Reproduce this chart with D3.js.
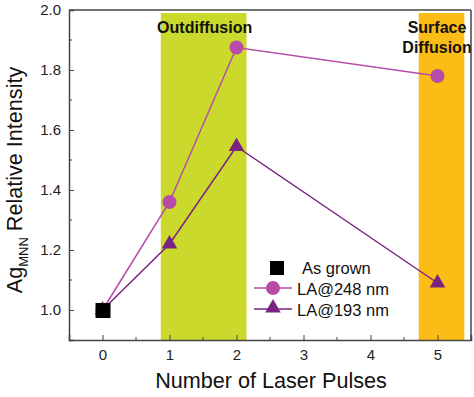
<!DOCTYPE html>
<html>
<head>
<meta charset="utf-8">
<script src="https://cdn.jsdelivr.net/npm/d3@7"></script>
<style>
  body { margin: 0; background: #fff; }
  svg { font-family: "Liberation Sans", Arial, sans-serif; }
</style>
</head>
<body>
<div id="chart"></div>
<script>
// data
const pulses = [0, 1, 2, 5]
const asGrown = [{ x: 0, y: 1.0 }]
const la248 = [1.0, 1.36, 1.875, 1.78]
const la193 = [1.0, 1.22, 1.545, 1.09]
const xTicks = [0, 1, 2, 3, 4, 5]
const yTicks = [1.0, 1.2, 1.4, 1.6, 1.8, 2.0]
const bands = [
  { label: ['Outdiffusion'], x0: 0.87, x1: 2.15, color: '#cad92b' },
  { label: ['Surface', 'Diffusion'], x0: 4.72, x1: 5.4, color: '#fcbc16' },
]

const width = 474
const height = 397
const margin = { top: 10, right: 3, bottom: 58, left: 69 }

const svg = d3.select('#chart').append('svg').attr('width', width).attr('height', height)

const x = d3.scaleLinear().domain([-0.5, 5.5]).range([margin.left, width - margin.right])
const y = d3.scaleLinear().domain([0.9, 2.0]).range([height - margin.bottom + 1, margin.top])

// shaded regions
svg
  .selectAll('.band')
  .data(bands)
  .enter()
  .append('rect')
  .attr('class', 'band')
  .attr('x', d => x(d.x0))
  .attr('width', d => x(d.x1) - x(d.x0))
  .attr('y', y(1.99))
  .attr('height', y(0.9) - y(1.99))
  .attr('fill', d => d.color)

// band titles
bands.forEach(b => {
  const cx = b.label.length > 1 ? 437 : x((b.x0 + b.x1) / 2) + 1
  b.label.forEach((t, i) => {
    svg
      .append('text')
      .attr('x', cx)
      .attr('y', 32.5 + i * 20)
      .attr('text-anchor', 'middle')
      .attr('font-size', 16)
      .attr('font-weight', 'bold')
      .attr('fill', '#111')
      .text(t)
  })
})

// axes
const axisColor = '#444'
const xAxis = d3.axisBottom(x).tickValues(xTicks).tickSize(-5).tickPadding(9).tickFormat(d3.format('d'))
const yAxis = d3.axisLeft(y).tickValues(yTicks).tickSize(-5).tickPadding(8).tickFormat(d3.format('.1f'))

const gx = svg.append('g').attr('transform', `translate(0,${y(0.9)})`).call(xAxis)
const gy = svg.append('g').attr('transform', `translate(${margin.left},0)`).call(yAxis)

// minor ticks
gx.selectAll('.minor')
  .data([0.5, 1.5, 2.5, 3.5, 4.5])
  .enter()
  .append('line')
  .attr('x1', d => x(d))
  .attr('x2', d => x(d))
  .attr('y1', 0)
  .attr('y2', -3)
  .attr('stroke', axisColor)
gy.selectAll('.minor')
  .data([1.1, 1.3, 1.5, 1.7, 1.9])
  .enter()
  .append('line')
  .attr('x1', 0)
  .attr('x2', 3)
  .attr('y1', d => y(d))
  .attr('y2', d => y(d))
  .attr('stroke', axisColor)

;[gx, gy].forEach(g => {
  g.select('.domain').attr('stroke', axisColor).attr('stroke-width', 1.5)
  g.selectAll('.tick line').attr('stroke', axisColor)
  g.selectAll('.tick text').attr('font-size', 15).attr('fill', '#222').attr('font-family', 'Liberation Sans, Arial, sans-serif')
})

// top and right frame
svg.append('line').attr('x1', x(-0.5)).attr('x2', x(5.5)).attr('y1', y(2.0)).attr('y2', y(2.0)).attr('stroke', axisColor).attr('stroke-width', 1.5)
svg.append('line').attr('x1', x(5.5)).attr('x2', x(5.5)).attr('y1', y(2.0)).attr('y2', y(0.9)).attr('stroke', axisColor).attr('stroke-width', 1.5)

// series
const c248 = '#b64ca8'
const c193 = '#7a2381'
const line = d3.line().x(d => x(d[0])).y(d => y(d[1]))

svg.append('path').datum(pulses.map((p, i) => [p, la248[i]])).attr('d', line).attr('fill', 'none').attr('stroke', c248).attr('stroke-width', 1.5)
svg.append('path').datum(pulses.map((p, i) => [p, la193[i]])).attr('d', line).attr('fill', 'none').attr('stroke', c193).attr('stroke-width', 1.5)

const tri = d3.symbol().type(d3.symbolTriangle).size(105)

svg
  .selectAll('.c248')
  .data(pulses.map((p, i) => [p, la248[i]]))
  .enter()
  .append('circle')
  .attr('cx', d => x(d[0]))
  .attr('cy', d => y(d[1]))
  .attr('r', 7)
  .attr('fill', c248)
svg
  .selectAll('.t193')
  .data(pulses.map((p, i) => [p, la193[i]]))
  .enter()
  .append('path')
  .attr('d', tri)
  .attr('transform', d => `translate(${x(d[0])},${y(d[1])})`)
  .attr('fill', c193)
svg
  .selectAll('.sq')
  .data(asGrown)
  .enter()
  .append('rect')
  .attr('x', d => x(d.x) - 7)
  .attr('y', d => y(d.y) - 7)
  .attr('width', 15)
  .attr('height', 15)
  .attr('fill', '#000')

// legend
const lg = svg.append('g').attr('transform', 'translate(254,268)')
lg.append('rect').attr('x', 16).attr('y', -7).attr('width', 14).attr('height', 14).attr('fill', '#000')
lg.append('line').attr('x1', 0).attr('x2', 38).attr('y1', 20).attr('y2', 20).attr('stroke', c248).attr('stroke-width', 1.5)
lg.append('circle').attr('cx', 19).attr('cy', 20).attr('r', 7).attr('fill', c248)
lg.append('line').attr('x1', 0).attr('x2', 38).attr('y1', 41).attr('y2', 41).attr('stroke', c193).attr('stroke-width', 1.5)
lg.append('path').attr('d', tri).attr('transform', 'translate(19,40)').attr('fill', c193)
const legendText = ['As grown', 'LA@248 nm', 'LA@193 nm']
lg.selectAll('.lt')
  .data(legendText)
  .enter()
  .append('text')
  .attr('x', (d, i) => (i === 0 ? 48 : 43))
  .attr('y', (d, i) => i * 21 + 6)
  .attr('font-size', 16.5)
  .attr('fill', '#111')
  .text(d => d)

// axis titles
svg
  .append('text')
  .attr('x', 271)
  .attr('y', 388)
  .attr('text-anchor', 'middle')
  .attr('font-size', 21.6)
  .attr('fill', '#111')
  .text('Number of Laser Pulses')

const yt = svg
  .append('text')
  .attr('transform', 'translate(22,180) rotate(-90)')
  .attr('text-anchor', 'middle')
  .attr('font-size', 21.6)
  .attr('fill', '#111')
yt.append('tspan').text('Ag')
yt.append('tspan').attr('font-size', 13).attr('dy', 6).text('MNN')
yt.append('tspan').attr('dy', -6).text(' Relative Intensity')
</script>
</body>
</html>
